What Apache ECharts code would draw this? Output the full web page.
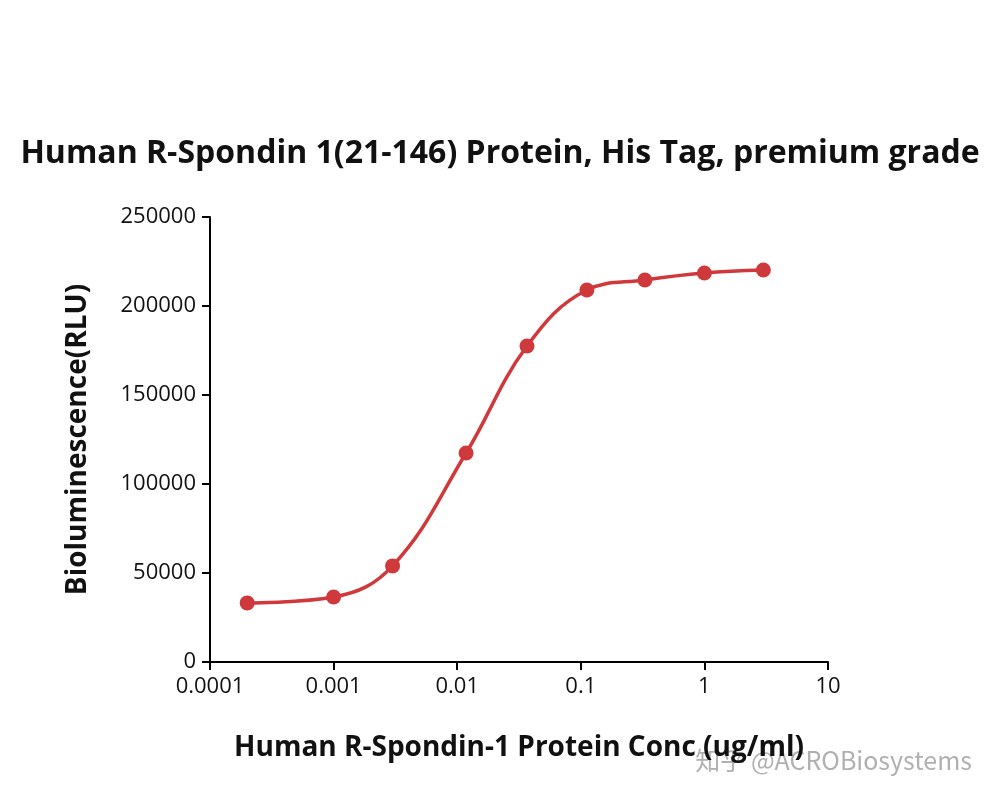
<!DOCTYPE html>
<html>
<head>
<meta charset="utf-8">
<script src="https://cdn.jsdelivr.net/npm/echarts@6/dist/echarts.min.js"></script>
<style>html,body{margin:0;padding:0;background:#fff}#main{width:1000px;height:808px}</style>
</head>
<body>
<div id="main"></div>
<script>
// concentration (ug/ml) and response (RLU)
var conc = [0.0002, 0.001, 0.003, 0.0118, 0.0367, 0.112, 0.33, 1, 3];
var rlu = [33200, 36500, 54000, 117400, 177500, 209000, 214600, 218500, 220200];
var yTicks = [0, 50000, 100000, 150000, 200000, 250000];

var chart = echarts.init(document.getElementById('main'));
var pts = conc.map(function (c, i) { return [c, rlu[i]]; });
var red = '#d0393b';
var lineStyle = { color: '#000', width: 2 };

chart.setOption({
  animation: false,
  title: {
    text: 'Human R-Spondin 1(21-146) Protein, His Tag, premium grade',
    left: 'center', top: 133,
    textStyle: { fontFamily: 'Open Sans', fontWeight: 'bold', fontSize: 32, color: '#111' }
  },
  grid: { left: 210, right: 172, top: 217, bottom: 146 },
  xAxis: {
    type: 'log', min: 0.0001, max: 10, logBase: 10,
    name: 'Human R-Spondin-1 Protein Conc (ug/ml)',
    nameLocation: 'middle', nameGap: 72,
    nameTextStyle: { fontFamily: 'Open Sans', fontWeight: 'bold', fontSize: 28, color: '#111' },
    axisLine: { lineStyle: lineStyle },
    axisTick: { lineStyle: lineStyle, length: 8 },
    minorTick: { show: false },
    splitLine: { show: false },
    axisLabel: {
      fontFamily: 'Open Sans', fontSize: 22, color: '#111', margin: 14,
      formatter: function (v) { return String(Number(v.toPrecision(1))); }
    }
  },
  yAxis: {
    type: 'value', min: yTicks[0], max: yTicks[yTicks.length - 1], interval: 50000,
    name: 'Bioluminescence(RLU)',
    nameLocation: 'middle', nameGap: 118, nameRotate: 90,
    nameTextStyle: { fontFamily: 'Open Sans', fontWeight: 'bold', fontSize: 28, color: '#111' },
    axisLine: { show: true, lineStyle: lineStyle },
    axisTick: { show: true, lineStyle: lineStyle, length: 8 },
    splitLine: { show: false },
    axisLabel: { fontFamily: 'Open Sans', fontSize: 22, color: '#111', margin: 14, formatter: function (v) { return String(v); } }
  },
  series: [{
    type: 'line',
    data: pts,
    smooth: 0.4,
    symbol: 'circle',
    symbolSize: 15,
    itemStyle: { color: red },
    lineStyle: { color: red, width: 3.5 }
  }],
  graphic: [{
    type: 'text', right: 28, top: 748,
    style: { text: '知乎 @ACROBiosystems', fill: 'rgba(150,150,150,0.75)', fontSize: 25, fontFamily: 'Noto Sans CJK SC' }
  }]
});
</script>
</body>
</html>
